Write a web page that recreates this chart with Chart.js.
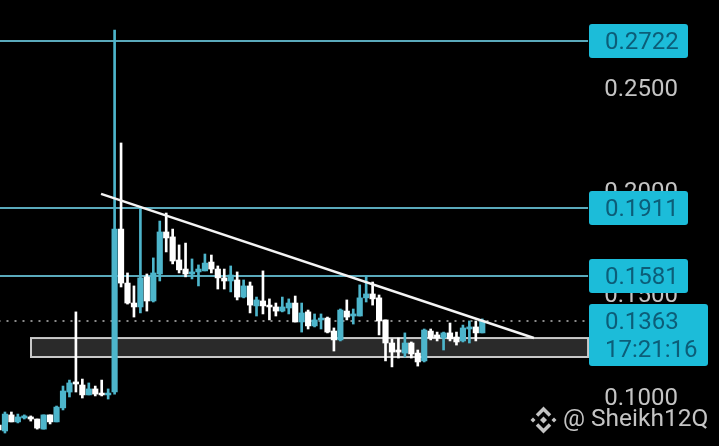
<!DOCTYPE html>
<html>
<head>
<meta charset="utf-8">
<style>
html, body { margin: 0; padding: 0; background: #000; overflow: hidden; }
canvas { display: block; }
</style>
<script src="https://cdn.jsdelivr.net/npm/chart.js@4/dist/chart.umd.min.js"></script>
</head>
<body>
<canvas id="myChart" width="719" height="446"></canvas>
<script>
const opens = [.0858,.0829,.0907,.0873,.0892,.0897,.0887,.0838,.0907,.0873,.0941,.1018,.1067,.1052,.1004,.1033,.1013,.1004,.1018,.1809,.1547,.1450,.1431,.1577,.1460,.1591,.1795,.1771,.1659,.1615,.1591,.1601,.1606,.1649,.1615,.1572,.1557,.1562,.1479,.1533,.1436,.1460,.1440,.1431,.1411,.1426,.1450,.1358,.1407,.1339,.1368,.1377,.1314,.1271,.1411,.1387,.1387,.1475,.1494,.1475,.1368,.1256,.1222,.1207,.1256,.1207,.1169,.1314,.1295,.1280,.1305,.1285,.1266,.1324,.1334,.1305];
const highs = [.0858,.0921,.0921,.0911,.0907,.0902,.0887,.0907,.0907,.0950,.1047,.1076,.1407,.1081,.1062,.1047,.1076,.1033,.2775,.2227,.1596,.1533,.1911,.1591,.1669,.1848,.1887,.1809,.1732,.1741,.1664,.1635,.1688,.1683,.1630,.1615,.1630,.1601,.1562,.1552,.1479,.1606,.1470,.1450,.1479,.1470,.1484,.1450,.1416,.1397,.1397,.1382,.1329,.1421,.1465,.1421,.1538,.1581,.1552,.1489,.1368,.1276,.1280,.1305,.1261,.1222,.1324,.1324,.1309,.1309,.1353,.1309,.1343,.1363,.1363,.1373];
const lows = [.0829,.0819,.0873,.0868,.0887,.0877,.0838,.0838,.0863,.0873,.0931,.0994,.1018,.0989,.1004,.0999,.0999,.0984,.1008,.1528,.1445,.1382,.1402,.1411,.1455,.1557,.1698,.1640,.1596,.1577,.1567,.1533,.1606,.1596,.1518,.1518,.1504,.1465,.1475,.1402,.1387,.1397,.1368,.1387,.1407,.1397,.1358,.1309,.1324,.1334,.1324,.1305,.1217,.1266,.1368,.1348,.1387,.1455,.1440,.1295,.1169,.1140,.1183,.1188,.1183,.1144,.1164,.1271,.1266,.1222,.1266,.1246,.1261,.1256,.1266,.1305];
const closes = [.0834,.0911,.0873,.0897,.0902,.0887,.0843,.0907,.0873,.0945,.1023,.1062,.1057,.1004,.1033,.1008,.1004,.1013,.1809,.1547,.1450,.1431,.1572,.1460,.1596,.1795,.1766,.1654,.1611,.1591,.1601,.1615,.1644,.1615,.1572,.1557,.1586,.1479,.1533,.1440,.1465,.1436,.1431,.1411,.1431,.1450,.1358,.1402,.1339,.1368,.1377,.1309,.1271,.1416,.1382,.1397,.1475,.1494,.1470,.1363,.1256,.1212,.1212,.1256,.1203,.1164,.1319,.1280,.1280,.1305,.1276,.1261,.1329,.1334,.1305,.1363];

const tickValues = [0.10, 0.15, 0.20, 0.25];
const levelPrices = [0.2722, 0.1911, 0.1581];
const lastPrice = 0.1363;
const countdown = "17:21:16";
const zonePrices = [0.1280, 0.1188];
const zoneIndexes = [5.04, 91.4];
const trendIndexes = [15.9, 83.0];
const trendPrices = [0.1980, 0.1280];
const watermark = "@ Sheikh12Q";

const UP_COLOR = "#4db5cb";
const DOWN_COLOR = "#ffffff";
const TAG_COLOR = "#1cbcd9";
const TAG_TEXT = "#0c5d78";
const FONT = "Roboto";

const isUp = (i) => closes[i] >= opens[i];
const candleColor = (c) => isUp(c.dataIndex) ? UP_COLOR : DOWN_COLOR;

function hLine(price, color, width, dash, order) {
    return {
        type: "line",
        data: [{x: 0, y: price}, {x: zoneIndexes[1], y: price}],
        borderColor: color,
        borderWidth: width,
        borderDash: dash,
        pointRadius: 0,
        order: order
    };
}

function roundBox(ctx, x, y, w, h) {
    ctx.beginPath();
    ctx.roundRect(x, y, w, h, 3);
    ctx.fill();
}

function drawTag(ctx, yScale, price, extra) {
    const y = yScale.getPixelForValue(price);
    ctx.fillStyle = TAG_COLOR;
    if (extra) {
        roundBox(ctx, 589, y - 17, 119, 62);
    } else {
        roundBox(ctx, 589, y - 17, 99, 34);
    }
    ctx.fillStyle = TAG_TEXT;
    ctx.font = "24px " + FONT;
    ctx.textAlign = "left";
    ctx.textBaseline = "middle";
    ctx.fillText(price.toFixed(4), 605, y + 2);
    if (extra) {
        ctx.fillText(extra, 605, y + 30);
    }
}

function drawDiamond(ctx, x, y, r) {
    ctx.beginPath();
    ctx.moveTo(x, y - r);
    ctx.lineTo(x + r, y);
    ctx.lineTo(x, y + r);
    ctx.lineTo(x - r, y);
    ctx.closePath();
    ctx.fill();
}

function drawLogo(ctx, x, y) {
    ctx.fillStyle = "#c4c4c4";
    ctx.strokeStyle = "#c4c4c4";
    drawDiamond(ctx, x, y, 3.5);
    drawDiamond(ctx, x - 10.5, y, 2.5);
    drawDiamond(ctx, x + 10.5, y, 2.5);
    ctx.lineWidth = 3.5;
    ctx.beginPath();
    ctx.moveTo(x - 6.5, y - 4.5);
    ctx.lineTo(x, y - 11);
    ctx.lineTo(x + 6.5, y - 4.5);
    ctx.moveTo(x - 6.5, y + 4.5);
    ctx.lineTo(x, y + 11);
    ctx.lineTo(x + 6.5, y + 4.5);
    ctx.stroke();
}

const zonePlugin = {
    id: "zone",
    beforeDatasetsDraw(chart) {
        const ctx = chart.ctx;
        const xs = chart.scales.x;
        const ys = chart.scales.y;
        const left = xs.getPixelForValue(zoneIndexes[0]);
        const right = xs.getPixelForValue(zoneIndexes[1]);
        const top = ys.getPixelForValue(zonePrices[0]);
        const bottom = ys.getPixelForValue(zonePrices[1]);
        ctx.save();
        ctx.fillStyle = "#2a2a2a";
        ctx.strokeStyle = "#c9c9c9";
        ctx.lineWidth = 2;
        ctx.fillRect(left, top, right - left, bottom - top);
        ctx.strokeRect(left, top, right - left, bottom - top);
        ctx.restore();
    }
};

const tagsPlugin = {
    id: "tags",
    afterDraw(chart) {
        const ctx = chart.ctx;
        const ys = chart.scales.y;
        ctx.save();
        for (const p of levelPrices) {
            drawTag(ctx, ys, p);
        }
        drawTag(ctx, ys, lastPrice, countdown);
        drawLogo(ctx, 543.5, 420);
        ctx.fillStyle = "#c4c4c4";
        ctx.font = "24.5px " + FONT;
        ctx.textAlign = "left";
        ctx.textBaseline = "middle";
        ctx.fillText(watermark, 563, 420);
        ctx.restore();
    }
};

const ctx = document.getElementById("myChart").getContext("2d");
const myChart = new Chart(ctx, {
    type: "bar",
    data: {
        datasets: [
            {
                type: "line",
                data: [{x: trendIndexes[0], y: trendPrices[0]}, {x: trendIndexes[1], y: trendPrices[1]}],
                borderColor: "#f4f4f4",
                borderWidth: 2.5,
                pointRadius: 0,
                order: 1
            },
            {
                data: opens.map((o, i) => ({x: i, y: [o, closes[i]]})),
                backgroundColor: candleColor,
                barThickness: 5.5,
                grouped: false,
                order: 2
            },
            {
                data: highs.map((h, i) => ({x: i, y: [lows[i], h]})),
                backgroundColor: candleColor,
                barThickness: 2,
                grouped: false,
                order: 3
            },
            ...levelPrices.map(p => hLine(p, "#5aa9bb", 2, [], 4)),
            hLine(lastPrice, "#b8b8b8", 1.5, [2, 6], 5)
        ]
    },
    options: {
        responsive: false,
        animation: false,
        layout: {padding: 0},
        scales: {
            x: {
                type: "linear",
                display: false,
                offset: false,
                min: 0.2326,
                max: 111.7
            },
            y: {
                position: "right",
                min: 0.0756,
                max: 0.2921,
                afterBuildTicks: (axis) => {
                    axis.ticks = tickValues.map(v => ({value: v}));
                },
                afterFit: (axis) => {
                    // labels sit inside the plot, so no room is reserved for them
                    axis.width = 0;
                    axis.paddingTop = 0;
                    axis.paddingBottom = 0;
                    axis.paddingLeft = 0;
                    axis.paddingRight = 0;
                },
                grid: {display: false, drawTicks: false},
                border: {display: false},
                ticks: {
                    mirror: true,
                    padding: -41,
                    labelOffset: 3,
                    color: "#c4c4c4",
                    font: {family: FONT, size: 24},
                    callback: (v) => Number(v).toFixed(4)
                }
            }
        },
        plugins: {
            legend: {display: false},
            tooltip: {enabled: false}
        }
    },
    plugins: [zonePlugin, tagsPlugin]
});
</script>
</body>
</html>
